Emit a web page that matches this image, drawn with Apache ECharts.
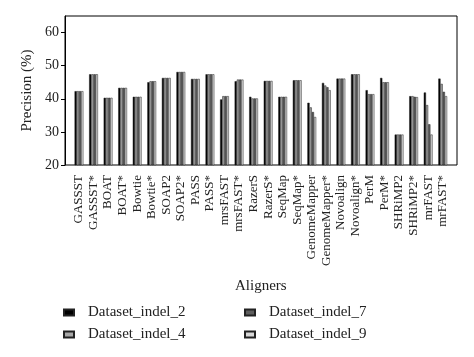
<!DOCTYPE html>
<html><head><meta charset="utf-8">
<script src="https://cdn.jsdelivr.net/npm/echarts@6/dist/echarts.min.js"></script>
<style>html,body{margin:0;padding:0;background:#fff}#c{width:474px;height:357px}</style>
</head><body><div id="c"></div>
<script>
const categories = ["GASSST","GASSST*","BOAT","BOAT*","Bowtie","Bowtie*","SOAP2","SOAP2*","PASS","PASS*","mrsFAST","mrsFAST*","RazerS","RazerS*","SeqMap","SeqMap*","GenomeMapper","GenomeMapper*","Novoalign","Novoalign*","PerM","PerM*","SHRiMP2","SHRiMP2*","mrFAST","mrFAST*"];
const indel2 = [42.3,47.4,40.3,43.3,40.6,45.0,46.3,48.1,46.0,47.4,39.8,45.3,40.6,45.4,40.6,45.6,38.8,44.8,46.1,47.4,42.6,46.3,29.2,40.8,41.9,46.1];
const indel4 = [42.3,47.4,40.3,43.3,40.6,45.3,46.3,48.1,46.0,47.4,40.8,45.8,40.1,45.4,40.6,45.6,37.4,44.0,46.1,47.4,41.4,45.0,29.2,40.8,38.1,44.5];
const indel7 = [42.3,47.4,40.3,43.3,40.6,45.3,46.3,48.1,46.0,47.4,40.8,45.8,40.1,45.4,40.6,45.6,36.0,43.5,46.1,47.4,41.4,45.0,29.2,40.6,32.3,42.1];
const indel9 = [42.3,47.4,40.3,43.3,40.6,45.3,46.3,48.1,46.0,47.4,40.8,45.8,40.1,45.4,40.6,45.6,34.5,42.6,46.1,47.4,41.4,45.0,29.2,40.5,29.2,40.8];
const yTicks = [20,30,40,50,60];
const seriesNames = ["Dataset_indel_2","Dataset_indel_4","Dataset_indel_7","Dataset_indel_9"];
const seriesData = [indel2, indel4, indel7, indel9];
const colors = ["#000000","#a8a8a8","#5e5e5e","#d8d8d8"];
const font = "'Liberation Serif', 'DejaVu Serif', serif";

const chart = echarts.init(document.getElementById('c'), null, {renderer:'canvas'});
const legendText = {fontFamily: font, fontSize: 15, color: '#222', padding: [0,0,0,9]};
chart.setOption({
  animation: false,
  grid: [
    {left: 65, right: 17, top: 16, bottom: 192, show: true, borderColor: '#000', borderWidth: 1, backgroundColor: 'transparent'},
    {left: 71.7, right: 24, top: 16, bottom: 192, show: false}
  ],
  legend: [
    {data: [seriesNames[0], seriesNames[1]], orient: 'vertical', left: 58, top: 300, itemWidth: 10, itemHeight: 6, itemGap: 7,
     textStyle: legendText, icon: 'rect'},
    {data: [seriesNames[2], seriesNames[3]], orient: 'vertical', left: 239, top: 300, itemWidth: 10, itemHeight: 6, itemGap: 7,
     textStyle: legendText, icon: 'rect'}
  ],
  xAxis: [
    {type: 'value', gridIndex: 0, show: false, min: 0, max: 1},
    {
      type: 'category', gridIndex: 1, data: categories,
      name: 'Aligners', nameLocation: 'middle', nameGap: 114,
      nameTextStyle: {fontFamily: font, fontSize: 15, color: '#222'},
      axisLine: {show: false},
      axisTick: {alignWithLabel: true, length: 3, lineStyle: {color: '#000'}},
      axisLabel: {rotate: 90, interval: 0, fontFamily: font, fontSize: 13, color: '#222', margin: 10}
    }
  ],
  yAxis: [
    {
      type: 'value', gridIndex: 0, min: 20, max: 65, interval: 5,
      name: 'Precision (%)', nameLocation: 'middle', nameGap: 30,
      nameTextStyle: {fontFamily: font, fontSize: 15, color: '#222'},
      axisLine: {show: true, lineStyle: {color: '#000', width: 1}},
      axisTick: {show: true, length: 4, inside: false, customValues: yTicks, lineStyle: {color: '#000'}},
      axisLabel: {fontFamily: font, fontSize: 14, color: '#222', customValues: yTicks, margin: 6},
      splitLine: {show: false}
    },
    {type: 'value', gridIndex: 1, min: 20, max: 65, show: false, splitLine: {show: false}}
  ],
  series: seriesNames.map((n, i) => ({
    name: n, type: 'bar', xAxisIndex: 1, yAxisIndex: 1, data: seriesData[i], barWidth: 2.2, barGap: '0%',
    itemStyle: {color: colors[i], borderColor: '#222', borderWidth: 0.5}
  }))
});
</script></body></html>
